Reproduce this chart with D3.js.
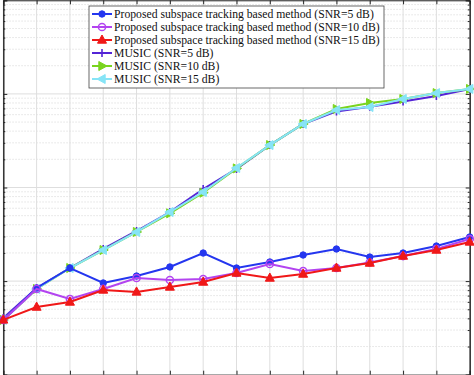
<!DOCTYPE html>
<html><head><meta charset="utf-8">
<script src="https://cdn.jsdelivr.net/npm/d3@7"></script>
<style>body{margin:0;background:#fff}svg{display:block}</style>
</head><body>
<script>
const xValues = [1,2,3,4,5,6,7,8,9,10,11,12,13,14,15];
const seriesNames = [
  "Proposed subspace tracking based method (SNR=5 dB)",
  "Proposed subspace tracking based method (SNR=10 dB)",
  "Proposed subspace tracking based method (SNR=15 dB)",
  "MUSIC (SNR=5 dB)",
  "MUSIC (SNR=10 dB)",
  "MUSIC (SNR=15 dB)"
];
const proposed5  = [0.0385,0.0844,0.138,0.0955,0.1133,0.1416,0.1995,0.138,0.160,0.190,0.2203,0.1807,0.1995,0.237,0.296];
const proposed10 = [0.0385,0.0824,0.0644,0.0824,0.1079,0.1028,0.1052,0.122,0.1524,0.128,0.138,0.158,0.1853,0.2203,0.2818];
const proposed15 = [0.0385,0.0528,0.0598,0.0804,0.0766,0.0865,0.0978,0.122,0.1079,0.119,0.138,0.156,0.1853,0.2148,0.262];
const music5  = [0.0404,0.0844,0.138,0.2203,0.343,0.547,0.964,1.578,2.84,4.77,6.5,7.3,8.3,9.5,11.3];
const music10 = [0.0385,0.0824,0.138,0.2148,0.335,0.53,0.88,1.6,2.84,4.77,6.9,8.0,8.83,10.2,11.3];
const music15 = [0.0385,0.0824,0.138,0.2148,0.335,0.547,0.895,1.616,2.84,4.77,6.73,7.24,8.83,10.2,11.3];
const colors  = ["#2436ef","#b344f0","#f01818","#5424d6","#7ad41e","#86e4f6"];
const markers = ["dot","circle","triUp","plus","triRight","triLeft"];
const yDomain = [1e-2, 1e2];

const W=474,H=375;
const svg=d3.select("body").append("svg").attr("width",W).attr("height",H);
const x=d3.scaleLinear().domain([1,15]).range([3.3,469.7]);
const y=d3.scaleLog().domain(yDomain).range([374.7,0.3]);
const L=3.3,R=469.7,T=0.3,B=374.7;

// grid
const minorVals=[];
for(let e=-2;e<2;e++) for(let m=2;m<=9;m++) minorVals.push(m*Math.pow(10,e));
const majorVals=[1e-2,1e-1,1,10,100];
const g=svg.append("g");
g.selectAll(".ymin").data(minorVals).join("line")
  .attr("x1",L).attr("x2",R).attr("y1",d=>y(d)).attr("y2",d=>y(d))
  .attr("stroke","#dcdcdc").attr("stroke-width",0.8).attr("stroke-dasharray","1.5,1.5");
g.selectAll(".ymaj").data(majorVals).join("line")
  .attr("x1",L).attr("x2",R).attr("y1",d=>y(d)).attr("y2",d=>y(d))
  .attr("stroke","#dedede").attr("stroke-width",1);
g.selectAll(".xg").data(xValues).join("line")
  .attr("x1",d=>x(d)).attr("x2",d=>x(d)).attr("y1",T).attr("y2",B)
  .attr("stroke","#dedede").attr("stroke-width",1);

// axes (ticks inward)
const ax=svg.append("g").attr("color","#262626");
ax.append("g").attr("transform",`translate(0,${B})`).call(d3.axisTop(x).tickValues(xValues).tickSize(4).tickFormat(""));
ax.append("g").attr("transform",`translate(0,${T})`).call(d3.axisBottom(x).tickValues(xValues).tickSize(4).tickFormat(""));
ax.append("g").attr("transform",`translate(${L},0)`).call(d3.axisRight(y).tickValues(majorVals).tickSize(4).tickFormat(""));
ax.append("g").attr("transform",`translate(${L},0)`).call(d3.axisRight(y).tickValues(minorVals).tickSize(2).tickFormat(""));
ax.append("g").attr("transform",`translate(${R},0)`).call(d3.axisLeft(y).tickValues(majorVals).tickSize(4).tickFormat(""));
ax.append("g").attr("transform",`translate(${R},0)`).call(d3.axisLeft(y).tickValues(minorVals).tickSize(2).tickFormat(""));
ax.selectAll(".domain").attr("stroke-width",1);

// series
const allSeries=[proposed5,proposed10,proposed15,music5,music10,music15];
function drawMarker(sel,type,c){
  if(type==="dot") sel.append("circle").attr("r",3.2).attr("fill",c).attr("stroke",c);
  else if(type==="circle") sel.append("circle").attr("r",3.6).attr("fill","none").attr("stroke",c).attr("stroke-width",1.5);
  else if(type==="triUp") sel.append("path").attr("d","M0,-5L4.5,3.2L-4.5,3.2Z").attr("fill",c).attr("stroke",c);
  else if(type==="plus") sel.append("path").attr("d","M-4,0H4M0,-4V4").attr("stroke",c).attr("stroke-width",1.6);
  else if(type==="triRight") sel.append("path").attr("d","M5,0L-3.2,-4.5L-3.2,4.5Z").attr("fill",c).attr("stroke",c);
  else if(type==="triLeft") sel.append("path").attr("d","M-5,0L3.2,-4.5L3.2,4.5Z").attr("fill",c).attr("stroke",c);
}
const line=d3.line().x((d,i)=>x(xValues[i])).y(d=>y(d));
const order=[3,4,5,0,1,2];
order.forEach(si=>{
  const c=colors[si];
  const sg=svg.append("g");
  sg.append("path").datum(allSeries[si]).attr("d",line).attr("fill","none").attr("stroke",c).attr("stroke-width",2);
  sg.selectAll("g").data(allSeries[si]).join("g")
    .attr("transform",(d,i)=>`translate(${x(xValues[i])},${y(d)})`)
    .each(function(){drawMarker(d3.select(this),markers[si],c);});
});

// legend
const lg=svg.append("g");
lg.append("rect").attr("x",89).attr("y",6).attr("width",295).attr("height",82)
  .attr("fill","#fff").attr("stroke","#444").attr("stroke-width",0.8);
seriesNames.forEach((n,i)=>{
  const yy=14+i*13;
  const r=lg.append("g");
  r.append("line").attr("x1",92).attr("x2",112).attr("y1",yy).attr("y2",yy).attr("stroke",colors[i]).attr("stroke-width",2);
  drawMarker(r.append("g").attr("transform",`translate(102,${yy})`),markers[i],colors[i]);
  r.append("text").attr("x",114).attr("y",yy+4).text(n)
    .attr("font-family","'Liberation Serif','DejaVu Serif',serif").attr("font-size",11.7).attr("fill","#111");
});
</script>
</body></html>
